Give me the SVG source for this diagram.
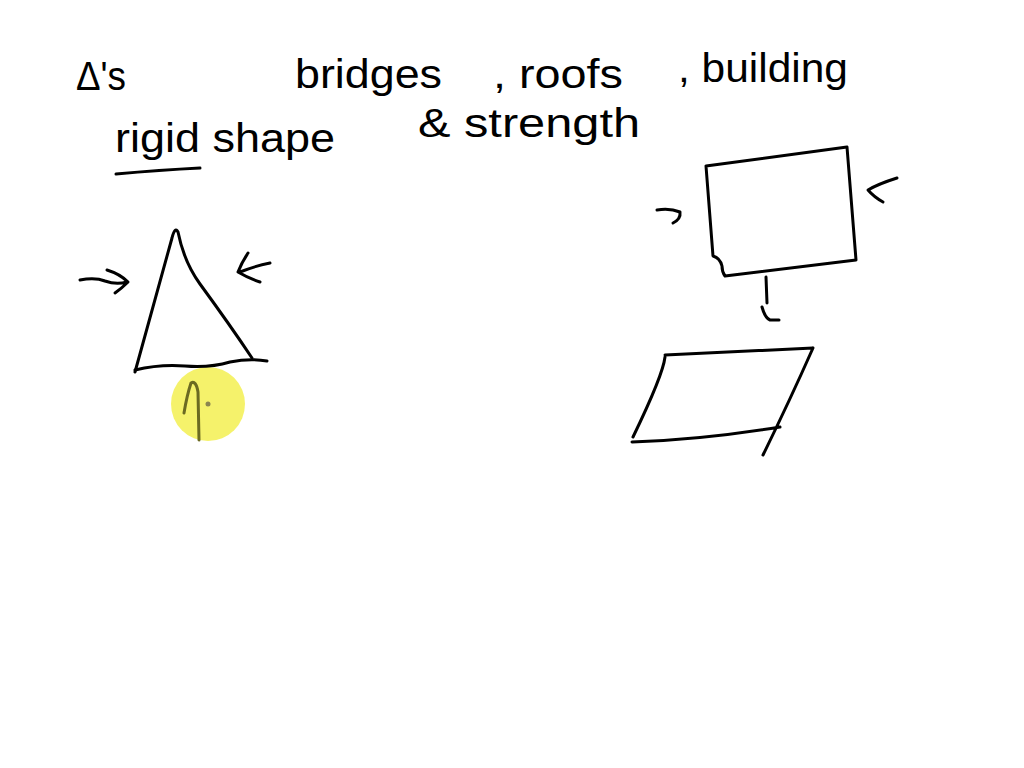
<svg xmlns="http://www.w3.org/2000/svg" width="1024" height="768" viewBox="0 0 1024 768">
<style>
.ink{fill:none;stroke:#000;stroke-width:3;stroke-linecap:round;stroke-linejoin:round}
.t{font-family:"Liberation Sans",Arial,sans-serif;font-size:40px;fill:#000}
</style>
<rect width="1024" height="768" fill="#fff"/>
<g id="text">
<text class="t" x="76" y="90" textLength="50" lengthAdjust="spacingAndGlyphs">Δ's</text>
<text class="t" x="295" y="88" textLength="147" lengthAdjust="spacingAndGlyphs">bridges</text>
<text class="t" x="493" y="88" textLength="130" lengthAdjust="spacingAndGlyphs">, roofs</text>
<text class="t" x="678" y="82" textLength="170" lengthAdjust="spacingAndGlyphs">, building</text>
<text class="t" x="115" y="152" textLength="220" lengthAdjust="spacingAndGlyphs">rigid shape</text>
<text class="t" x="418" y="137" textLength="222" lengthAdjust="spacingAndGlyphs">&amp; strength</text>
<path class="ink" d="M116,174 Q160,170 200,168"/>
</g>
<g id="triangle">
<circle cx="208" cy="404" r="37" fill="#f2ee3a" fill-opacity="0.75"/>
<circle cx="208" cy="404" r="2.5" fill="#8a8550"/>
<path class="ink" d="M135,372 L172,238 Q175,226 178,232 Q184,262 200,284 Q230,325 252,358"/>
<path class="ink" d="M135,370 Q160,364 185,366 Q210,368 230,362 Q250,358 267,361"/>
<path class="ink" d="M80,280 Q95,277 105,281 Q116,285 127,282 M107,270 Q120,274 128,282 Q122,288 115,293"/>
<path class="ink" d="M270,263 Q255,266 240,272 M248,253 Q242,262 238,272 Q248,278 260,282"/>
<path fill="none" stroke="#6b6a22" stroke-width="3" stroke-linecap="round" d="M184,413 Q187,395 191,383 Q196,380 198,392 L199,440"/>
</g>
<g id="square">
<path class="ink" d="M706,166 L847,147 L856,260 L725,276 Q722,272 722,266 Q720,258 713,256 L706,166"/>
<path class="ink" d="M657,210 Q670,208 680,212 Q681,219 673,223"/>
<path class="ink" d="M897,178 Q878,184 868,190 Q874,197 883,202"/>
<path class="ink" d="M766,277 L767,303 M762,307 Q765,318 770,320 L779,320"/>
</g>
<g id="parallelogram">
<path class="ink" d="M665,355 L813,348 M665,357 Q663,375 633,437 M632,442 Q700,440 780,427 M813,348 Q790,400 763,455"/>
</g>
</svg>
